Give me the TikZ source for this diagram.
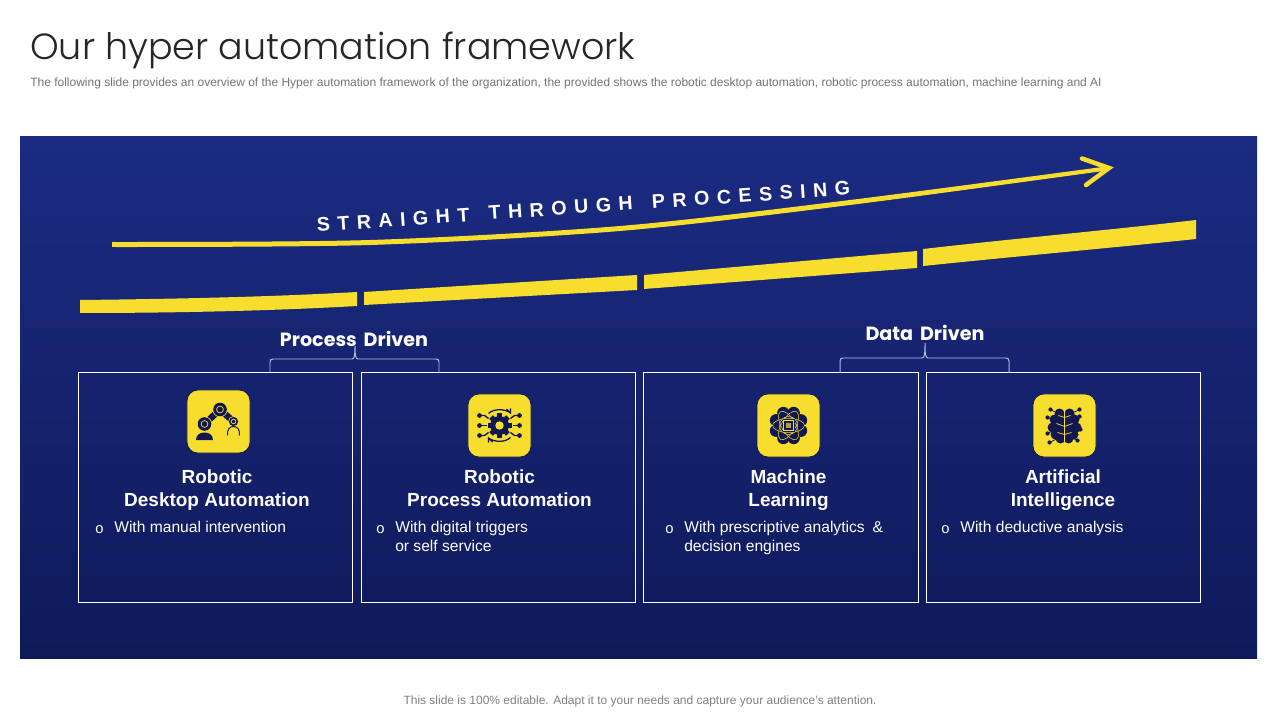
\documentclass[tikz,border=0pt]{standalone}
\usepackage{fontspec}
\setmainfont{Liberation Sans}
\newfontfamily\headfont{Poppins}
\newfontfamily\titlefont{Poppins Light}
\newfontfamily\spacedfont[LetterSpace=38]{Liberation Sans}
\definecolor{navytop}{HTML}{1B2B82}
\definecolor{navybot}{HTML}{0F1A5A}
\definecolor{ink}{HTML}{12184F}
\definecolor{signal}{HTML}{F7DE2E}
\definecolor{bracketblue}{HTML}{B4BCE6}
\tikzset{
	card/.style={draw=white, line width=0.7pt, minimum width=6.86cm, minimum height=5.75cm},
	tile/.style={fill=signal, draw=ink, line width=0.6pt, rounded corners=0.27cm, minimum size=1.575cm},
	cardtitle/.style={text=white, anchor=north, inner sep=0pt, font=\bfseries\fontsize{13.5}{16.4}\selectfont, align=center},
	bullet/.style={text=white, anchor=north west, align=left, inner sep=0pt, font=\fontsize{11.1}{13.5}\selectfont},
	bulletmark/.style={text=white, anchor=base west, inner sep=0pt, font=\fontsize{10.5}{12}\selectfont},
	bracket/.style={draw=bracketblue, line width=0.7pt},
	drivenlabel/.style={text=white, font=\headfont\bfseries\fontsize{13.6}{16}\selectfont},
	hub/.style={fill=ink, draw=none},
	thinink/.style={draw=ink, line width=0.7pt},
	thinyellow/.style={draw=signal, line width=0.35pt}
}
\begin{document}
\begin{tikzpicture}[x=0.025cm, y=-0.025cm]
	\useasboundingbox (0,0) rectangle (1280,720);
	% Heading and footer:
	\node[anchor=base west, inner sep=0pt, text=black!85, font=\titlefont\fontsize{25.9}{30}\selectfont] (title) at (30,60){Our hyper automation framework};
	\node[anchor=base west, inner sep=0pt, text=black!55, font=\fontsize{8.53}{10}\selectfont] (subtitle) at (30,87){The following slide provides an overview of the Hyper automation framework of the organization, the provided shows the robotic desktop automation, robotic process automation, machine learning and AI};
	\node[inner sep=0pt, text=black!50, font=\fontsize{8.53}{10}\selectfont] (footer) at (640,701){This slide is 100\% editable. Adapt it to your needs and capture your audience's attention.};
	% Panel:
	\fill[top color=navytop, middle color=navytop!85!navybot, bottom color=navybot] (20,136.4) rectangle (1257,658.8);
	% Arrow and band:
	\fill[signal] plot[smooth] coordinates {(112,242) (370,240) (620,226) (850,200) (1106,166.5)} -- plot[smooth] coordinates {(1107,170.5) (850,205) (620,231) (370,245) (112,247)} -- cycle;
	\coordinate (tipup) at (1082,158.5);
	\coordinate (tip) at (1109,168);
	\coordinate (tipdown) at (1086,185);
	\draw[signal, line width=3.2pt, line cap=round, line join=miter] (tipup) -- (tip) -- (tipdown);
	\node[anchor=base west, inner sep=0pt, rotate=4, text=white, font=\spacedfont\bfseries\fontsize{14}{16}\selectfont] (straight) at (317,232){STRAIGHT\hspace{4.5pt} THROUGH\hspace{4.5pt} PROCESSING};
	\fill[signal] (80,300) .. controls (170,299) and (270,297) .. (357,292) -- (357,306) .. controls (270,311) and (170,313) .. (80,313) -- cycle;
	\fill[signal] (364,292) -- (637,275) -- (637,290) -- (364,305) -- cycle;
	\fill[signal] (644,275) -- (917,251) -- (917,268) -- (644,289) -- cycle;
	\fill[signal] (923,249) .. controls (1020,238) and (1110,230) .. (1196,220) -- (1196,239) .. controls (1110,248) and (1020,256) .. (923,266) -- cycle;
	% Cards:
	\node[card] (robotdesk) at (215.4,487.2){};
	\node[card] (robotproc) at (498.4,487.7){};
	\node[card] (machine) at (780.9,487.7){};
	\node[card] (artificial) at (1063.4,487.7){};
	% Brackets:
	\node[drivenlabel] (process) at (354,339){Process\hspace{2pt} Driven};
	\node[drivenlabel] (data) at (925,333){Data\hspace{2pt} Driven};
	\coordinate (procleft) at (270,372.5);
	\coordinate (procright) at (439,373);
	\coordinate (datleft) at (840,373);
	\coordinate (datright) at (1009,373);
	\draw[bracket] (procleft) -- (270,362) .. controls (270,360) and (271,359) .. (273,359) -- (352,359) .. controls (354.5,359) and (355,355) .. (355,346) .. controls (355,355) and (355.5,359) .. (358,359) -- (436,359) .. controls (438,359) and (439,360) .. (439,362) -- (procright);
	\draw[bracket] (datleft) -- (840,361) .. controls (840,359) and (841,358) .. (843,358) -- (922,358) .. controls (924.5,358) and (925,354) .. (925,343) .. controls (925,354) and (925.5,358) .. (928,358) -- (1006,358) .. controls (1008,358) and (1009,359) .. (1009,361) -- (datright);
	% Tiles:
	\node[tile] (tilerobot) at (218.5,421.5){};
	\node[tile] (tilegear) at (499.5,425.5){};
	\node[tile] (tileatom) at (788.5,425.5){};
	\node[tile] (tilebrain) at (1064.5,425.5){};
	% Robot arm:
	\begin{scope}[shift={(tilerobot.center)}]
		\draw[ink, line width=4.6pt] (-14,2.5) -- (1.5,-12) -- (15,0);
		\fill[hub] (-22.5,18.5) .. controls (-22.5,13) and (-18,11) .. (-14,11) .. controls (-10,11) and (-5.5,13) .. (-5.5,18.5) -- cycle;
		\foreach \jx/\jy/\jr in {-14/2.5/6.8, 1.5/-12/6.8, 15/0/4.6}{
			\fill[signal] (\jx,\jy) circle (\jr+0.8);
			\fill[hub] (\jx,\jy) circle (\jr);
			\draw[signal, line width=0.5pt] (\jx,\jy) circle (\jr*0.5);
		}
		\draw[thinink] (9,14) .. controls (8.5,8) and (11,5) .. (15,5) .. controls (19,5) and (21.5,8) .. (21,14);
	\end{scope}
	% Gear with nodes:
	\begin{scope}[shift={(tilegear.center)}]
		\foreach \a in {0,45,...,315}{
			\fill[hub, rotate=\a] (8,-2.6) rectangle (12,2.6);
		}
		\fill[hub] (0,0) circle (9.5);
		\fill[signal] (0,0) circle (4.2);
		\foreach \py in {-10,0,10}{
			\fill[hub] (-20,\py) circle (2.4);
			\fill[hub] (20,\py) circle (2.4);
		}
		\draw[thinink, line width=1pt] (-20,-10) -- (-15,-10) -- (-11,-7);
		\draw[thinink, line width=1pt] (-20,0) -- (-13,0);
		\draw[thinink, line width=1pt] (-20,10) -- (-15,10) -- (-11,7);
		\draw[thinink, line width=1pt] (20,-10) -- (15,-10) -- (11,-7);
		\draw[thinink, line width=1pt] (20,0) -- (13,0);
		\draw[thinink, line width=1pt] (20,10) -- (15,10) -- (11,7);
		\draw[thinink, line width=0.9pt] (-11,-12) .. controls (-6,-17) and (5,-17) .. (11,-12.5) (7,-16.5) -- (11,-12.5) -- (11,-17);
		\draw[thinink, line width=0.9pt] (11,12) .. controls (6,17) and (-5,17) .. (-11,12.5) (-7,16.5) -- (-11,12.5) -- (-11,17);
	\end{scope}
	% Atom with chip:
	\begin{scope}[shift={(tileatom.center)}]
		\foreach \a in {22.5,67.5,...,337.5}{
			\fill[hub] (\a:13.5) circle (6.2);
		}
		\fill[hub] (0,0) circle (14);
		\draw[thinyellow] (0,0) circle (9);
		\foreach \a in {0,60,120}{
			\draw[thinyellow, rotate=\a] (0,0) ellipse (16 and 7);
		}
		\fill[hub] (-6,-6) rectangle (6,6);
		\draw[thinyellow, line width=0.5pt] (-5,-5) rectangle (5,5);
		\fill[signal!70!ink] (-2.5,-2.5) rectangle (2.5,2.5);
	\end{scope}
	% Brain with circuit:
	\begin{scope}[shift={(tilebrain.center)}]
		\foreach \bx/\by/\br in {-5/-12/5, 5/-12/5, -10/-6/5, 10/-6/5, -12/2/5, 12/2/5, -9/9/5, 9/9/5, -4/13/5, 4/13/5}{
			\fill[hub] (\bx,\by) circle (\br);
		}
		\fill[hub] (0,0) circle (12);
		\draw[thinyellow, line width=0.5pt] (0,-15) -- (0,16) (0,-8) -- (-6,-10) (0,-8) -- (6,-10) (0,1) -- (-8,-2) (0,1) -- (8,-2) (0,9) -- (-7,7) (0,9) -- (7,7);
		\foreach \ox/\oy/\ex/\ey in {-14/-16/-7/-12, -17/-8/-10/-6, -17/8/-11/5, -15/17/-7/13, 15/-16/7/-12, 15/-9/10/-6, 16/4/12/2, 13/15/7/12}{
			\draw[thinink, line width=0.5pt] (\ox,\oy) -- (\ex,\ey);
			\fill[hub] (\ox,\oy) circle (2.1);
		}
	\end{scope}
	% Card texts:
	\node[cardtitle] (titledesk) at (217,469){Robotic\\Desktop Automation};
	\node[cardtitle] (titleproc) at (499.5,469){Robotic\\Process Automation};
	\node[cardtitle] (titlemach) at (788.5,469){Machine\\Learning};
	\node[cardtitle] (titleart) at (1063,469){Artificial\\Intelligence};
	\node[bulletmark] (markdesk) at (95,533){o};
	\node[bullet] (textdesk) at (114,521.4){With manual intervention};
	\node[bulletmark] (markproc) at (376,533){o};
	\node[bullet] (textproc) at (395,521.4){With digital triggers\\or self service};
	\node[bulletmark] (markmach) at (665,533){o};
	\node[bullet] (textmach) at (684,521.4){With prescriptive analytics\hspace{2.5pt} \&\\decision engines};
	\node[bulletmark] (markart) at (941,533){o};
	\node[bullet] (textart) at (960,521.4){With deductive analysis};
\end{tikzpicture}
\end{document}
